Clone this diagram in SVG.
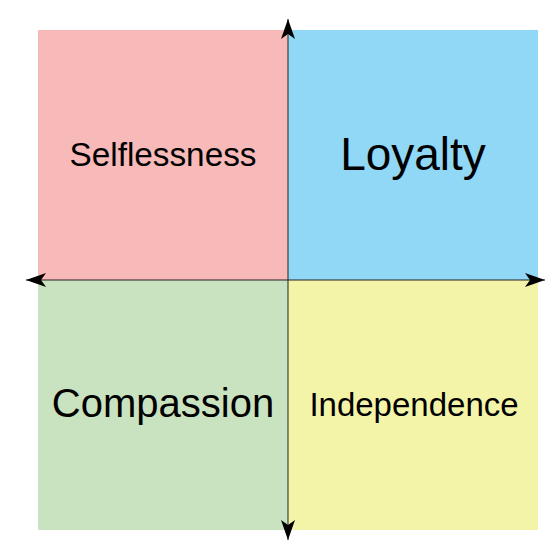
<svg xmlns="http://www.w3.org/2000/svg" width="560" height="560" viewBox="0 0 560 560">
<style>
.lbl{font-family:"Liberation Sans",Arial,sans-serif;fill:#000;text-anchor:middle}
.axis{stroke:#222;stroke-width:1;fill:none}
</style>
<defs>
<marker id="arr" viewBox="0 0 20 14" refX="20" refY="7" markerWidth="20" markerHeight="14" markerUnits="userSpaceOnUse" orient="auto">
<path d="M0,0 L20,7 L0,14 L5,7 Z" fill="#000"/>
</marker>
</defs>
<rect width="560" height="560" fill="#fff"/>
<g id="selflessness">
<rect x="38" y="30" width="250" height="250" fill="#F8B9B9"/>
<text class="lbl" x="163" y="166" font-size="33.3">Selflessness</text>
</g>
<g id="loyalty">
<rect x="288" y="30" width="250" height="250" fill="#91D8F6"/>
<text class="lbl" x="413" y="170" font-size="46">Loyalty</text>
</g>
<g id="compassion">
<rect x="38" y="280" width="250" height="250" fill="#C9E2BF"/>
<text class="lbl" x="163" y="417" font-size="40">Compassion</text>
</g>
<g id="independence">
<rect x="288" y="280" width="250" height="250" fill="#F4F4A9"/>
<text class="lbl" x="414" y="416" font-size="33">Independence</text>
</g>
<g id="connectors">
<line class="axis" x1="288" y1="280" x2="288" y2="19" marker-end="url(#arr)"/>
<line class="axis" x1="288" y1="280" x2="288" y2="540" marker-end="url(#arr)"/>
<line class="axis" x1="288" y1="280" x2="26" y2="280" marker-end="url(#arr)"/>
<line class="axis" x1="288" y1="280" x2="545" y2="280" marker-end="url(#arr)"/>
</g>
</svg>
